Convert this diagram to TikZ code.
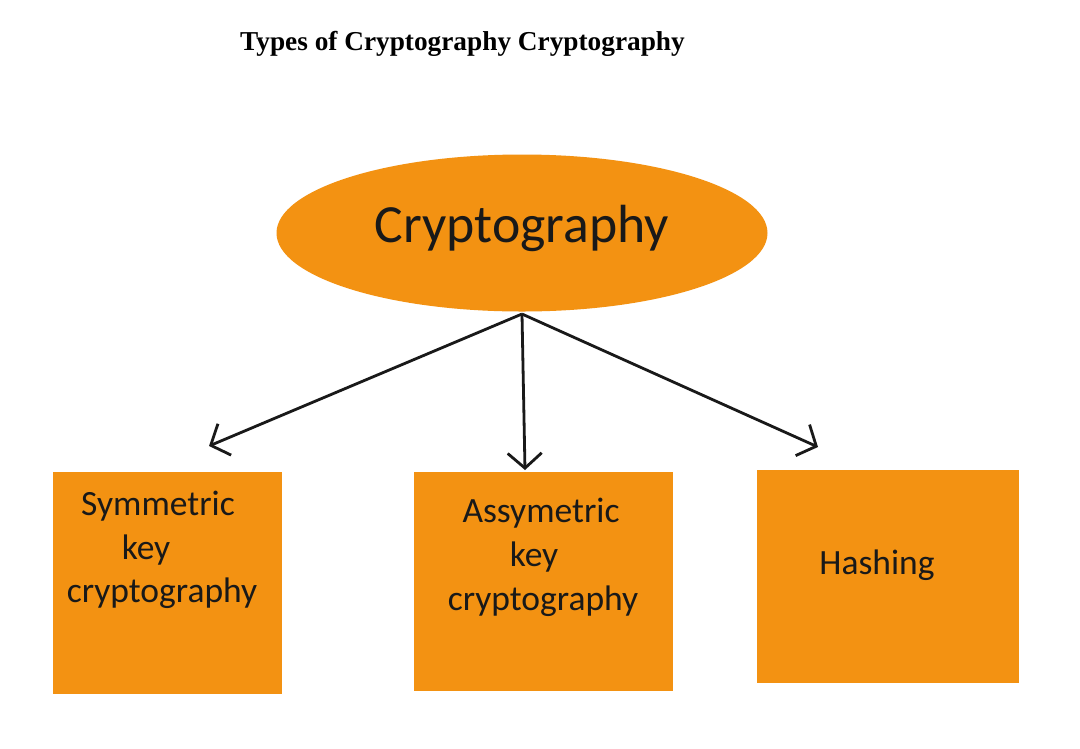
\documentclass[tikz,border=0pt]{standalone}
\usepackage{fontspec}
\setmainfont{Carlito}
\newfontfamily\titlefont{Liberation Serif}
\usetikzlibrary{shapes.geometric,arrows.meta}
\definecolor{boxorange}{RGB}{243,146,18}
\tikzset{
  orangebox/.style={fill=boxorange,draw=none,minimum width=#1,inner sep=0pt,anchor=north west},
  boxtext/.style={font=\fontsize{35.5}{42}\selectfont,text=black!90,inner sep=0pt},
  branch/.style={draw=black!90,line width=2.8pt,-{Straight Barb[length=15pt,width=34pt,line width=2.8pt]}}
}
\begin{document}
\begin{tikzpicture}[x=1pt,y=-1pt]
\useasboundingbox (0,0) rectangle (1080,748);
\fill[white] (0,0) rectangle (1080,748);
\node[font=\titlefont\bfseries\fontsize{27.3}{32}\selectfont,anchor=base west,inner sep=0pt] (title) at (240,50) {Types of Cryptography Cryptography};
\node[ellipse,fill=boxorange,minimum width=491pt,minimum height=157pt,inner sep=0pt] (root) at (522,233) {};
\node[font=\fontsize{53.7}{64}\selectfont,inner sep=0pt,text=black!90] (roottext) at (522,228) {Cryptography};
% boxes
\node[orangebox=229pt,minimum height=222pt] (b1) at (53,472) {};
\node[orangebox=259pt,minimum height=219pt] (b2) at (414,472) {};
\node[orangebox=262pt,minimum height=213pt] (b3) at (757,470) {};
% box texts
\node[boxtext] (s1) at (158,506) {Symmetric};
\node[boxtext] (s2) at (146,550) {key};
\node[boxtext] (s3) at (162,593) {cryptography};
\node[boxtext] (a1) at (541,513) {Assymetric};
\node[boxtext] (a2) at (534,557) {key};
\node[boxtext] (a3) at (543,601) {cryptography};
\node[boxtext] (h1) at (877,565) {Hashing};
% arrows
\coordinate (o) at (522,314);
\coordinate (tl) at (209,446);
\coordinate (tm) at (525,470);
\coordinate (tr) at (818,447);
\draw[branch] (o) -- (tl);
\draw[branch] (o) -- (tm);
\draw[branch] (o) -- (tr);
\end{tikzpicture}
\end{document}
